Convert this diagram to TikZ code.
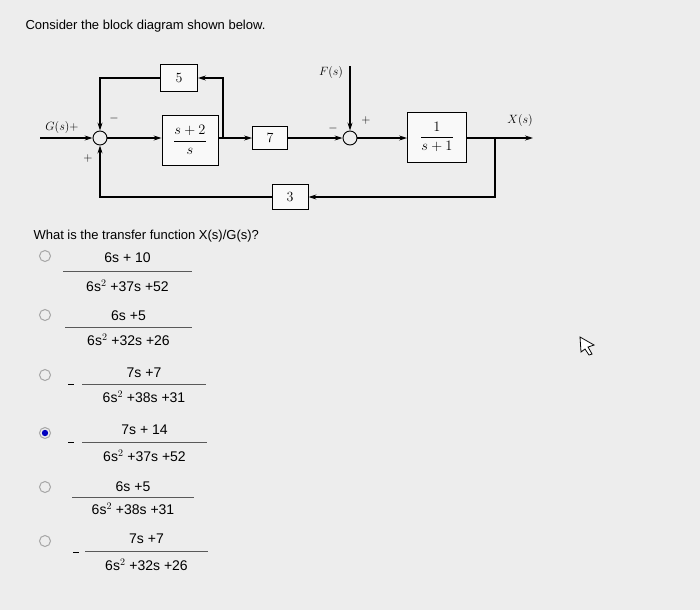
\documentclass[tikz,border=0pt]{standalone}
\usepackage{fontspec}
\newfontfamily\sff{Liberation Sans}
\usetikzlibrary{arrows.meta}
\begin{document}
\begin{tikzpicture}[x=1pt,y=-1pt,
  blk/.style={draw,line width=0.9pt,fill=white!95!gray,inner sep=0pt,font=\fontsize{14}{16}\selectfont},
  sumc/.style={draw,circle,line width=0.9pt,minimum size=14pt,inner sep=0pt},
  sig/.style={line width=1.1pt,-{Stealth[length=8pt,width=5pt]}},
  ln/.style={line width=1.1pt},
  lbl/.style={font=\fontsize{13}{14}\selectfont},
  q/.style={font=\sff\fontsize{14}{16}\selectfont,inner sep=0pt},
  radio/.style={draw=gray!70,circle,minimum size=11pt,inner sep=0pt,line width=1pt}]
\fill[gray!14] (0,0) rectangle (700,610);
\useasboundingbox (0,0) rectangle (700,610);
\node[anchor=west,font=\sff\fontsize{13}{15}\selectfont] (title) at (22,26) {Consider the block diagram shown below.};
% diagram
\coordinate (in) at (40,138);
\node[sumc] (s1) at (100,138) {};
\node[blk,minimum width=37pt,minimum height=27pt] (b5) at (179,78) {5};
\node[blk,minimum width=56pt,minimum height=50pt] (bG) at (190,140) {$\displaystyle\frac{s+2}{s}$};
\node[blk,minimum width=35pt,minimum height=23pt] (b7) at (270,138) {7};
\node[sumc] (s2) at (350,138) {};
\node[blk,minimum width=59pt,minimum height=50pt] (bP) at (437,137) {$\displaystyle\frac{1}{s+1}$};
\node[blk,minimum width=36pt,minimum height=25pt] (b3) at (290,197) {3};
\coordinate (br1) at (223,138);
\coordinate (br2) at (495,138);
\coordinate (out) at (533,138);
\coordinate (fin) at (350,66);
\draw[sig] (in) -- (s1);
\draw[sig] (s1) -- (bG.west|-s1);
\draw[ln] (bG.east|-br1) -- (br1);
\draw[sig] (br1) -- (b7);
\draw[sig] (br1) |- (b5);
\draw[sig] (b5) -| (s1);
\draw[sig] (b7) -- (s2);
\draw[sig] (fin) -- (s2);
\draw[sig] (s2) -- (bP.west|-s2);
\draw[ln] (bP.east|-br2) -- (br2);
\draw[sig] (br2) -- (out);
\draw[sig] (br2) |- (b3);
\draw[sig] (b3) -| (s1);
\node[lbl] (gl) at (62,127) {$G(s)+$};
\node[lbl] (m1) at (114,118) {$-$};
\node[lbl] (p1) at (88,158) {$+$};
\node[lbl] (fl) at (331,72) {$F(s)$};
\node[lbl] (m2) at (333,128) {$-$};
\node[lbl] (p2) at (366,120) {$+$};
\node[lbl] (xl) at (520,120) {$X(s)$};
% question
\node[anchor=west,font=\sff\fontsize{13}{15}\selectfont] (qq) at (30,236) {What is the transfer function X(s)/G(s)?};
\newcommand{\ans}[8]{%
  \node[radio] (r#8) at (45,#1) {};
  \draw[line width=0.8pt,gray!70!black] (#4,#3) -- (#5,#3);
  \node[q] (n#8) at ({(#4+#5)/2},#2) {#6};
  \node[q] (d#8) at ({(#4+#5)/2},{2*#3-#2+2}) {#7};
}
\ans{256}{258}{271}{63}{192}{6s + 10}{6s$^2$ +37s +52}{a}
\ans{315}{316}{327}{65}{192}{6s +5}{6s$^2$ +32s +26}{b}
\ans{375}{373}{384}{82}{206}{7s +7}{6s$^2$ +38s +31}{c}
\ans{433}{430}{442}{82}{207}{7s + 14}{6s$^2$ +37s +52}{d}
\ans{487}{487}{497}{72}{194}{6s +5}{6s$^2$ +38s +31}{e}
\ans{541}{539}{551}{85}{208}{7s +7}{6s$^2$ +32s +26}{f}
\fill[blue!75!black] (rd) circle (3.2pt);
\draw[line width=1pt] (68,384) -- (74,384);
\draw[line width=1pt] (68,442) -- (74,442);
\draw[line width=1pt] (73,552) -- (79,552);
% cursor
\draw[line width=0.8pt,fill=white] (580,337) -- (594,345) -- (588,347) -- (592,354) -- (589,355) -- (585,349) -- (581,352) -- cycle;
\end{tikzpicture}
\end{document}
